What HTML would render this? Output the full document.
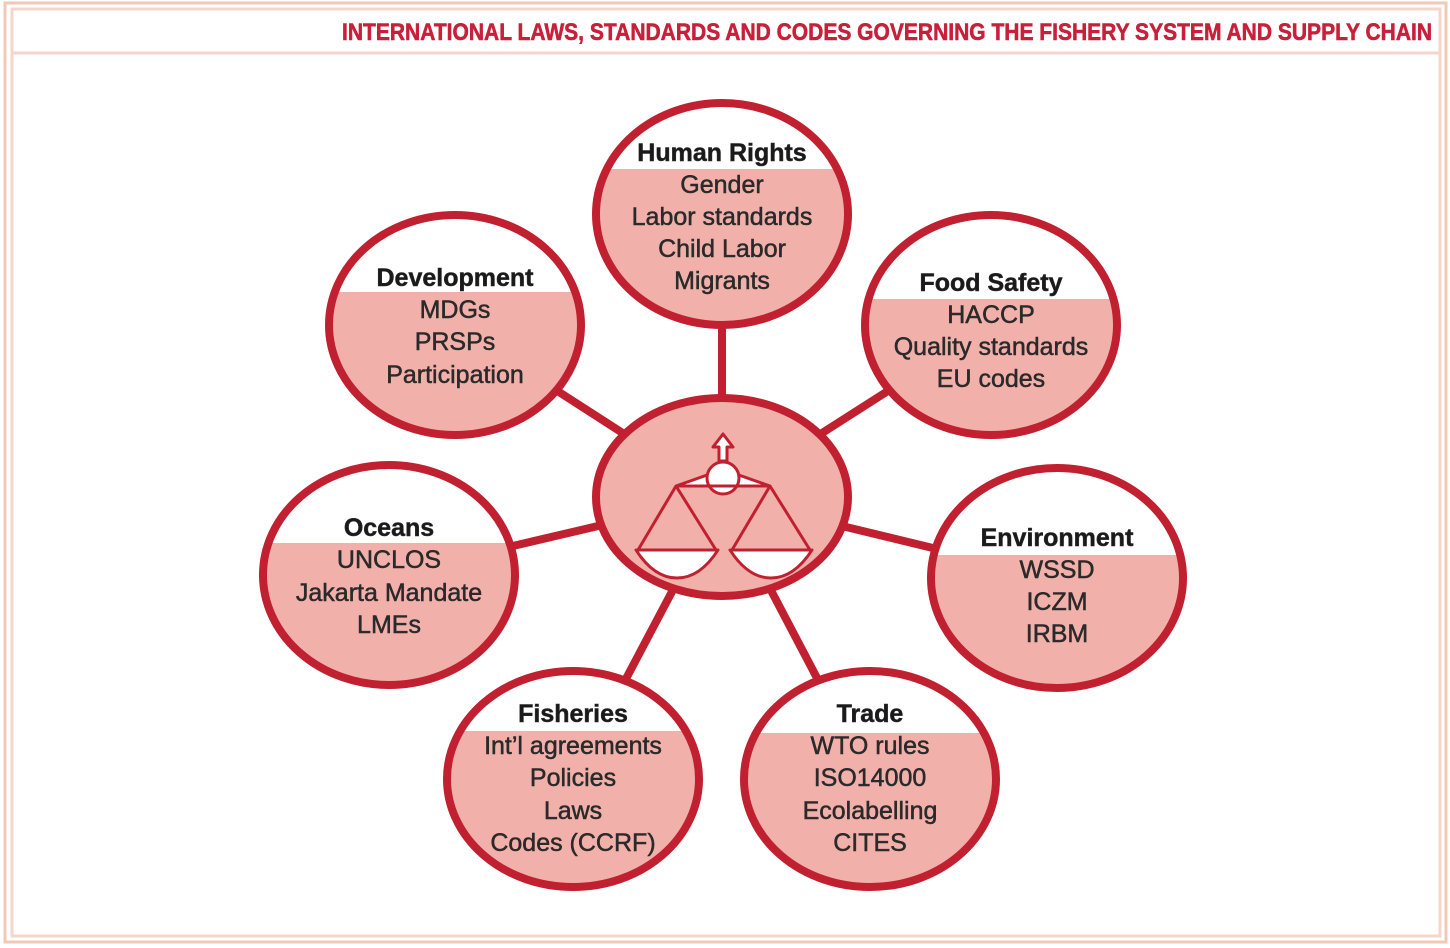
<!DOCTYPE html>
<html><head><meta charset="utf-8"><style>
html,body{margin:0;padding:0;background:#fff;}
svg{display:block;}
text{font-family:"Liberation Sans Narrow","Liberation Sans",sans-serif;}
</style></head><body>
<svg width="1450" height="948" viewBox="0 0 1450 948" xmlns="http://www.w3.org/2000/svg">
<defs>
<clipPath id="c1"><ellipse cx="722" cy="214" rx="126" ry="111"/></clipPath>
<clipPath id="c2"><ellipse cx="455" cy="325" rx="126" ry="110"/></clipPath>
<clipPath id="c3"><ellipse cx="991" cy="325" rx="126" ry="110"/></clipPath>
<clipPath id="c4"><ellipse cx="389" cy="575" rx="126" ry="110"/></clipPath>
<clipPath id="c5"><ellipse cx="1057" cy="578" rx="126" ry="110"/></clipPath>
<clipPath id="c6"><ellipse cx="573" cy="779" rx="126" ry="108"/></clipPath>
<clipPath id="c7"><ellipse cx="870" cy="779" rx="126" ry="108"/></clipPath>
</defs>
<rect x="5" y="3" width="1441" height="939" fill="none" stroke="#f2c9b4" stroke-width="3"/>
<rect x="12" y="9" width="1428" height="927" fill="none" stroke="#f4d6cb" stroke-width="3"/>
<line x1="12" y1="53" x2="1440" y2="53" stroke="#f4d6cb" stroke-width="3"/>
<text x="342" y="40" font-size="24" font-weight="bold" fill="#c8203a" stroke="#c8203a" stroke-width="0.6" textLength="1090" lengthAdjust="spacingAndGlyphs">INTERNATIONAL LAWS, STANDARDS AND CODES GOVERNING THE FISHERY SYSTEM AND SUPPLY CHAIN</text>

<g stroke="#c0202f" stroke-width="8">
<line x1="722" y1="497" x2="722" y2="214"/>
<line x1="722" y1="497" x2="455" y2="325"/>
<line x1="722" y1="497" x2="991" y2="325"/>
<line x1="722" y1="497" x2="389" y2="575"/>
<line x1="722" y1="497" x2="1057" y2="578"/>
<line x1="722" y1="497" x2="573" y2="779"/>
<line x1="722" y1="497" x2="870" y2="779"/>
</g>

<g fill="#f2b0ab">
<rect x="590" y="169" width="270" height="170" clip-path="url(#c1)"/>
<rect x="320" y="292" width="270" height="150" clip-path="url(#c2)"/>
<rect x="860" y="299" width="270" height="150" clip-path="url(#c3)"/>
<rect x="255" y="543" width="270" height="150" clip-path="url(#c4)"/>
<rect x="925" y="555" width="270" height="150" clip-path="url(#c5)"/>
<rect x="440" y="731" width="270" height="170" clip-path="url(#c6)"/>
<rect x="735" y="733" width="270" height="170" clip-path="url(#c7)"/>
</g>
<g fill="#fff">
<rect x="590" y="90" width="270" height="79" clip-path="url(#c1)"/>
<rect x="320" y="200" width="270" height="92" clip-path="url(#c2)"/>
<rect x="860" y="200" width="270" height="99" clip-path="url(#c3)"/>
<rect x="255" y="450" width="270" height="93" clip-path="url(#c4)"/>
<rect x="925" y="450" width="270" height="105" clip-path="url(#c5)"/>
<rect x="440" y="660" width="270" height="71" clip-path="url(#c6)"/>
<rect x="735" y="660" width="270" height="73" clip-path="url(#c7)"/>
</g>
<g fill="none" stroke="#c0202f" stroke-width="8">
<ellipse cx="722" cy="214" rx="126" ry="111"/>
<ellipse cx="455" cy="325" rx="126" ry="110"/>
<ellipse cx="991" cy="325" rx="126" ry="110"/>
<ellipse cx="389" cy="575" rx="126" ry="110"/>
<ellipse cx="1057" cy="578" rx="126" ry="110"/>
<ellipse cx="573" cy="779" rx="126" ry="108"/>
<ellipse cx="870" cy="779" rx="126" ry="108"/>
</g>
<ellipse cx="722" cy="497" rx="126" ry="99" fill="#f2b0ab" stroke="#c0202f" stroke-width="8"/>

<g stroke="#c0202f" stroke-width="3" fill="none" stroke-linejoin="round">
<path d="M676 486 L710 474 L736 474 L770 486 Z" fill="#fff"/>
<circle cx="723" cy="478" r="16" fill="#fff"/>
<path d="M719 461 L719 447 L713 447 L723 434 L733 447 L727 447 L727 461 Z" fill="#fff"/>
<line x1="676" y1="486" x2="770" y2="486"/>
<path d="M676 486 L638 550 M676 486 L716 550 M770 486 L732 550 M770 486 L810 550"/>
<path d="M636 550 L718 550 Q700 578 677 578 Q654 578 636 550 Z" fill="#fff"/>
<path d="M730 550 L812 550 Q794 578 771 578 Q748 578 730 550 Z" fill="#fff"/>
</g>

<g font-size="25" text-anchor="middle" fill="#2a2a2a" stroke="#2a2a2a" stroke-width="0.5">
<text x="722" y="161" font-weight="bold" fill="#1a1a1a">Human Rights</text>
<text x="722" y="193">Gender</text>
<text x="722" y="225">Labor standards</text>
<text x="722" y="257">Child Labor</text>
<text x="722" y="289">Migrants</text>

<text x="455" y="286" font-weight="bold" fill="#1a1a1a">Development</text>
<text x="455" y="318">MDGs</text>
<text x="455" y="350">PRSPs</text>
<text x="455" y="383">Participation</text>

<text x="991" y="291" font-weight="bold" fill="#1a1a1a">Food Safety</text>
<text x="991" y="323">HACCP</text>
<text x="991" y="355">Quality standards</text>
<text x="991" y="387">EU codes</text>

<text x="389" y="536" font-weight="bold" fill="#1a1a1a">Oceans</text>
<text x="389" y="568">UNCLOS</text>
<text x="389" y="601">Jakarta Mandate</text>
<text x="389" y="633">LMEs</text>

<text x="1057" y="546" font-weight="bold" fill="#1a1a1a">Environment</text>
<text x="1057" y="578">WSSD</text>
<text x="1057" y="610">ICZM</text>
<text x="1057" y="642">IRBM</text>

<text x="573" y="722" font-weight="bold" fill="#1a1a1a">Fisheries</text>
<text x="573" y="754">Int’l agreements</text>
<text x="573" y="786">Policies</text>
<text x="573" y="819">Laws</text>
<text x="573" y="851">Codes (CCRF)</text>

<text x="870" y="722" font-weight="bold" fill="#1a1a1a">Trade</text>
<text x="870" y="754">WTO rules</text>
<text x="870" y="786">ISO14000</text>
<text x="870" y="819">Ecolabelling</text>
<text x="870" y="851">CITES</text>
</g>
</svg>
</body></html>
